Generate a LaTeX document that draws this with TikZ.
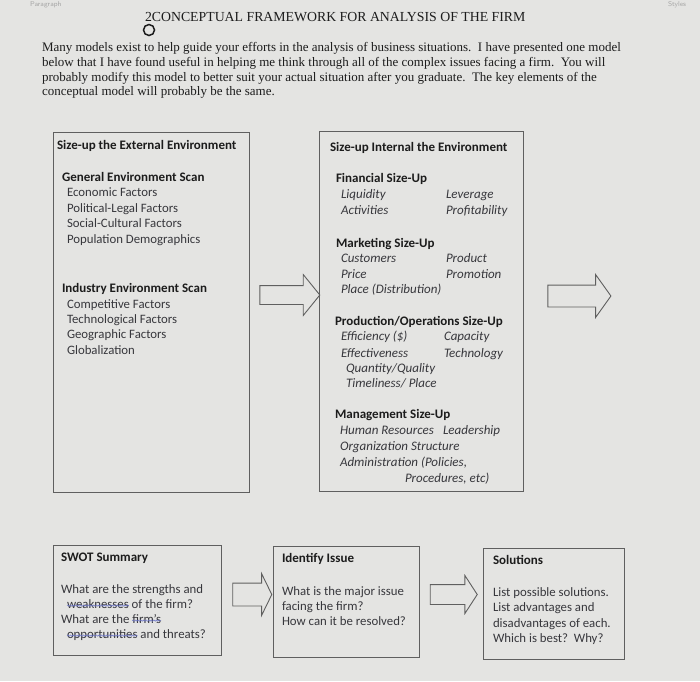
\documentclass[tikz,border=0pt]{standalone}
\usepackage{fontspec}
\setmainfont{Liberation Serif}
\newfontfamily\calfont{Carlito}
\usetikzlibrary{shapes.arrows,decorations.pathmorphing}
\definecolor{bg}{RGB}{228,228,226}
\definecolor{ln}{RGB}{95,95,95}
\definecolor{tx}{RGB}{28,28,28}
\definecolor{itc}{RGB}{55,55,60}
\definecolor{sq}{RGB}{105,115,200}
\definecolor{faint}{RGB}{165,165,165}
\begin{document}
\begin{tikzpicture}[x=1pt,y=-1pt,
  every node/.style={inner sep=0pt, outer sep=0pt},
  frame/.style={draw=ln, line width=0.9pt, anchor=north west},
  blockarrow/.style={single arrow, draw=ln, line width=0.9pt, fill=bg, inner xsep=0pt},
  hd/.style={anchor=base west, text=tx, font=\calfont\bfseries\fontsize{13}{15}\selectfont},
  itm/.style={anchor=base west, text=itc, font=\calfont\fontsize{12.8}{15}\selectfont},
  iti/.style={anchor=base west, text=itc, font=\calfont\itshape\fontsize{13}{15}\selectfont},
  para/.style={anchor=base west, text=tx, font=\fontsize{13}{15}\selectfont},
  squig/.style={draw=sq, line width=0.5pt, decorate, decoration={snake, amplitude=0.7pt, segment length=2.6pt}}
]
\useasboundingbox (0,0) rectangle (700,681);
\fill[bg] (0,0) rectangle (700,681);

% faint ribbon texts at the top edge
\node[anchor=base west, text=faint, font=\sffamily\fontsize{7}{8}\selectfont] (ribL) at (30,6) {Paragraph};
\node[anchor=base west, text=faint, font=\sffamily\fontsize{7}{8}\selectfont] (ribR) at (668,6) {Styles};

% title and paragraph
\node[para, font=\fontsize{13.8}{16}\selectfont] (title) at (145,21.5) {2CONCEPTUAL FRAMEWORK FOR ANALYSIS OF THE FIRM};
\node[circle, draw=tx, line width=1.5pt, minimum size=11pt] (ring) at (149,30) {};
\node[para] (p1) at (42,51) {Many models exist to help guide your efforts in the analysis of business situations.\ \ I have presented one model};
\node[para] (p2) at (42,66) {below that I have found useful in helping me think through all of the complex issues facing a firm.\ \ You will};
\node[para] (p3) at (42,81) {probably modify this model to better suit your actual situation after you graduate.\ \ The key elements of the};
\node[para] (p4) at (42,95) {conceptual model will probably be the same.};

% boxes
\node[frame, minimum width=196pt, minimum height=360pt] (ext) at (53,132) {};
\node[frame, minimum width=204pt, minimum height=360pt] (int) at (319,131) {};
\node[frame, minimum width=168pt, minimum height=110pt] (swot) at (53,545) {};
\node[frame, minimum width=146pt, minimum height=111pt] (ident) at (273,546) {};
\node[frame, minimum width=141pt, minimum height=111pt] (sol) at (483,548) {};

% block arrows
\node[blockarrow, inner ysep=9pt, minimum height=60pt, single arrow head extend=11pt, single arrow tip angle=102] (a1) at (286,295) {};
\node[blockarrow, inner ysep=10.5pt, minimum height=63pt, single arrow head extend=10.5pt, single arrow tip angle=109] (a2) at (575.5,296) {};
\node[blockarrow, inner ysep=11pt, minimum height=39pt, single arrow head extend=9.5pt, single arrow tip angle=128] (a3) at (249.5,594.5) {};
\node[blockarrow, inner ysep=9.5pt, minimum height=47pt, single arrow head extend=9pt, single arrow tip angle=114] (a4) at (450.5,594.5) {};

% external environment
\node[hd] (e0) at (57,149) {Size-up the External Environment};
\node[hd] (e1) at (62,181) {General Environment Scan};
\node[itm] (e2) at (67,196) {Economic Factors};
\node[itm] (e3) at (67,212) {Political-Legal Factors};
\node[itm] (e4) at (67,227) {Social-Cultural Factors};
\node[itm] (e5) at (67,243) {Population Demographics};
\node[hd] (e6) at (62,292) {Industry Environment Scan};
\node[itm] (e7) at (67,308) {Competitive Factors};
\node[itm] (e8) at (67,323) {Technological Factors};
\node[itm] (e9) at (67,338) {Geographic Factors};
\node[itm] (e10) at (67,354) {Globalization};

% internal environment
\node[hd] (i0) at (330,151) {Size-up Internal the Environment};
\node[hd] (i1) at (336,182) {Financial Size-Up};
\node[iti] (i2) at (341,198) {Liquidity};
\node[iti] (i3) at (446,198) {Leverage};
\node[iti] (i4) at (341,214) {Activities};
\node[iti] (i5) at (446,214) {Profitability};
\node[hd] (i6) at (336,247) {Marketing Size-Up};
\node[iti] (i7) at (341,262) {Customers};
\node[iti] (i8) at (446,262) {Product};
\node[iti] (i9) at (341,278) {Price};
\node[iti] (i10) at (446,278) {Promotion};
\node[iti] (i11) at (341,293) {Place (Distribution)};
\node[hd] (i12) at (335,325) {Production/Operations Size-Up};
\node[iti] (i13) at (341,340) {Efficiency (\$)};
\node[iti] (i14) at (444,340) {Capacity};
\node[iti] (i15) at (341,357) {Effectiveness};
\node[iti] (i16) at (444,357) {Technology};
\node[iti] (i17) at (346,372) {Quantity/Quality};
\node[iti] (i18) at (346,387) {Timeliness/ Place};
\node[hd] (i19) at (335,418) {Management Size-Up};
\node[iti] (i20) at (340,434) {Human Resources};
\node[iti] (i21) at (443,434) {Leadership};
\node[iti] (i22) at (340,450) {Organization Structure};
\node[iti] (i23) at (340,466) {Administration (Policies,};
\node[iti] (i24) at (405,482) {Procedures, etc)};

% SWOT
\node[hd] (s0) at (61,561) {SWOT Summary};
\node[itm] (s1) at (61,593) {What are the strengths and};
\node[itm] (s2a) at (67,608) {weaknesses};
\node[itm] (s2b) at ([xshift=2.9pt]s2a.base east) {of the firm?};
\node[itm] (s3a) at (61,623) {What are the};
\node[itm] (s3b) at ([xshift=2.9pt]s3a.base east) {firm’s};
\node[itm] (s4a) at (67,638) {opportunities};
\node[itm] (s4b) at ([xshift=2.9pt]s4a.base east) {and threats?};
\draw[squig] ([yshift=2.4pt]s2a.base west) -- ([yshift=2.4pt]s2a.base east);
\draw[squig] ([yshift=2.4pt]s3b.base west) -- ([yshift=2.4pt]s3b.base east);
\draw[squig] ([yshift=2.4pt]s4a.base west) -- ([yshift=2.4pt]s4a.base east);

% Identify issue
\node[hd] (d0) at (282,562) {Identify Issue};
\node[itm] (d1) at (282,595) {What is the major issue};
\node[itm] (d2) at (282,610) {facing the firm?};
\node[itm] (d3) at (282,625) {How can it be resolved?};

% Solutions
\node[hd] (o0) at (493,564) {Solutions};
\node[itm] (o1) at (493,596) {List possible solutions.};
\node[itm] (o2) at (493,611) {List advantages and};
\node[itm] (o3) at (493,627) {disadvantages of each.};
\node[itm] (o4) at (493,642) {Which is best?\ \ Why?};
\end{tikzpicture}
\end{document}
